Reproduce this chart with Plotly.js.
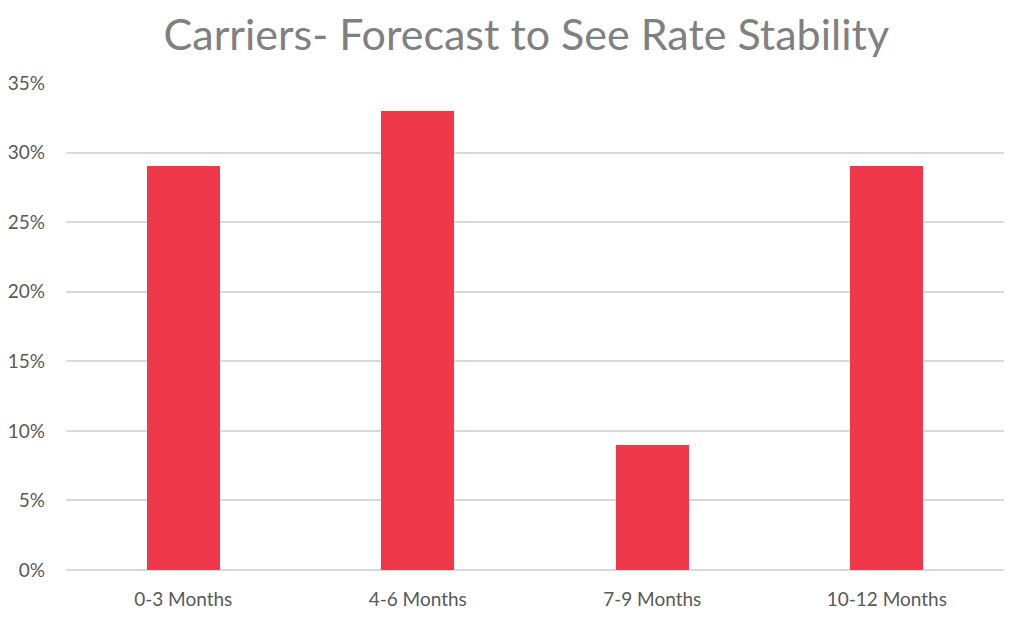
<!DOCTYPE html>
<html>
<head>
<meta charset="utf-8">
<script src="https://cdn.plot.ly/plotly-3.0.1.min.js"></script>
<style>
    html, body { margin: 0; padding: 0; background: #fff; }
    #chart { width: 1024px; height: 621px; }
</style>
</head>
<body>
<div id="chart"></div>
<script>
// values
const periods = ["0-3 Months", "4-6 Months", "7-9 Months", "10-12 Months"]
const shares = [0.29, 0.33, 0.09, 0.29]
const tickValues = [0, 0.05, 0.10, 0.15, 0.20, 0.25, 0.30, 0.35]

const data = [{
    type: "bar",
    x: periods,
    y: shares,
    width: 0.31,
    marker: { color: "#EF3849" },
    hoverinfo: "x+y"
}]

const layout = {
    width: 1024,
    height: 621,
    paper_bgcolor: "#fff",
    plot_bgcolor: "#fff",
    font: { family: "Lato, sans-serif", size: 19, color: "#595959" },
    title: {
        text: "Carriers- Forecast to See Rate Stability",
        font: { family: "Lato, sans-serif", size: 43, color: "#808080" },
        x: 0.514,
        xanchor: "center",
        y: 0.944,
        yanchor: "middle"
    },
    margin: { l: 66, r: 20, t: 83, b: 51 },
    bargap: 0,
    showlegend: false,
    xaxis: {
        showgrid: false,
        showline: false,
        zeroline: false,
        ticks: "",
        ticklabelstandoff: 16,
        tickfont: { size: 19, color: "#595959" }
    },
    yaxis: {
        range: [0, 0.35],
        tickvals: tickValues,
        tickformat: ".0%",
        showgrid: true,
        gridcolor: "#D9D9D9",
        gridwidth: 1.5,
        zeroline: true,
        zerolinecolor: "#D9D9D9",
        zerolinewidth: 1.5,
        showline: false,
        ticks: "",
        ticklabelstandoff: 20,
        tickfont: { size: 19, color: "#595959" }
    }
}

Plotly.newPlot("chart", data, layout, { displayModeBar: false, responsive: false })
</script>
</body>
</html>
